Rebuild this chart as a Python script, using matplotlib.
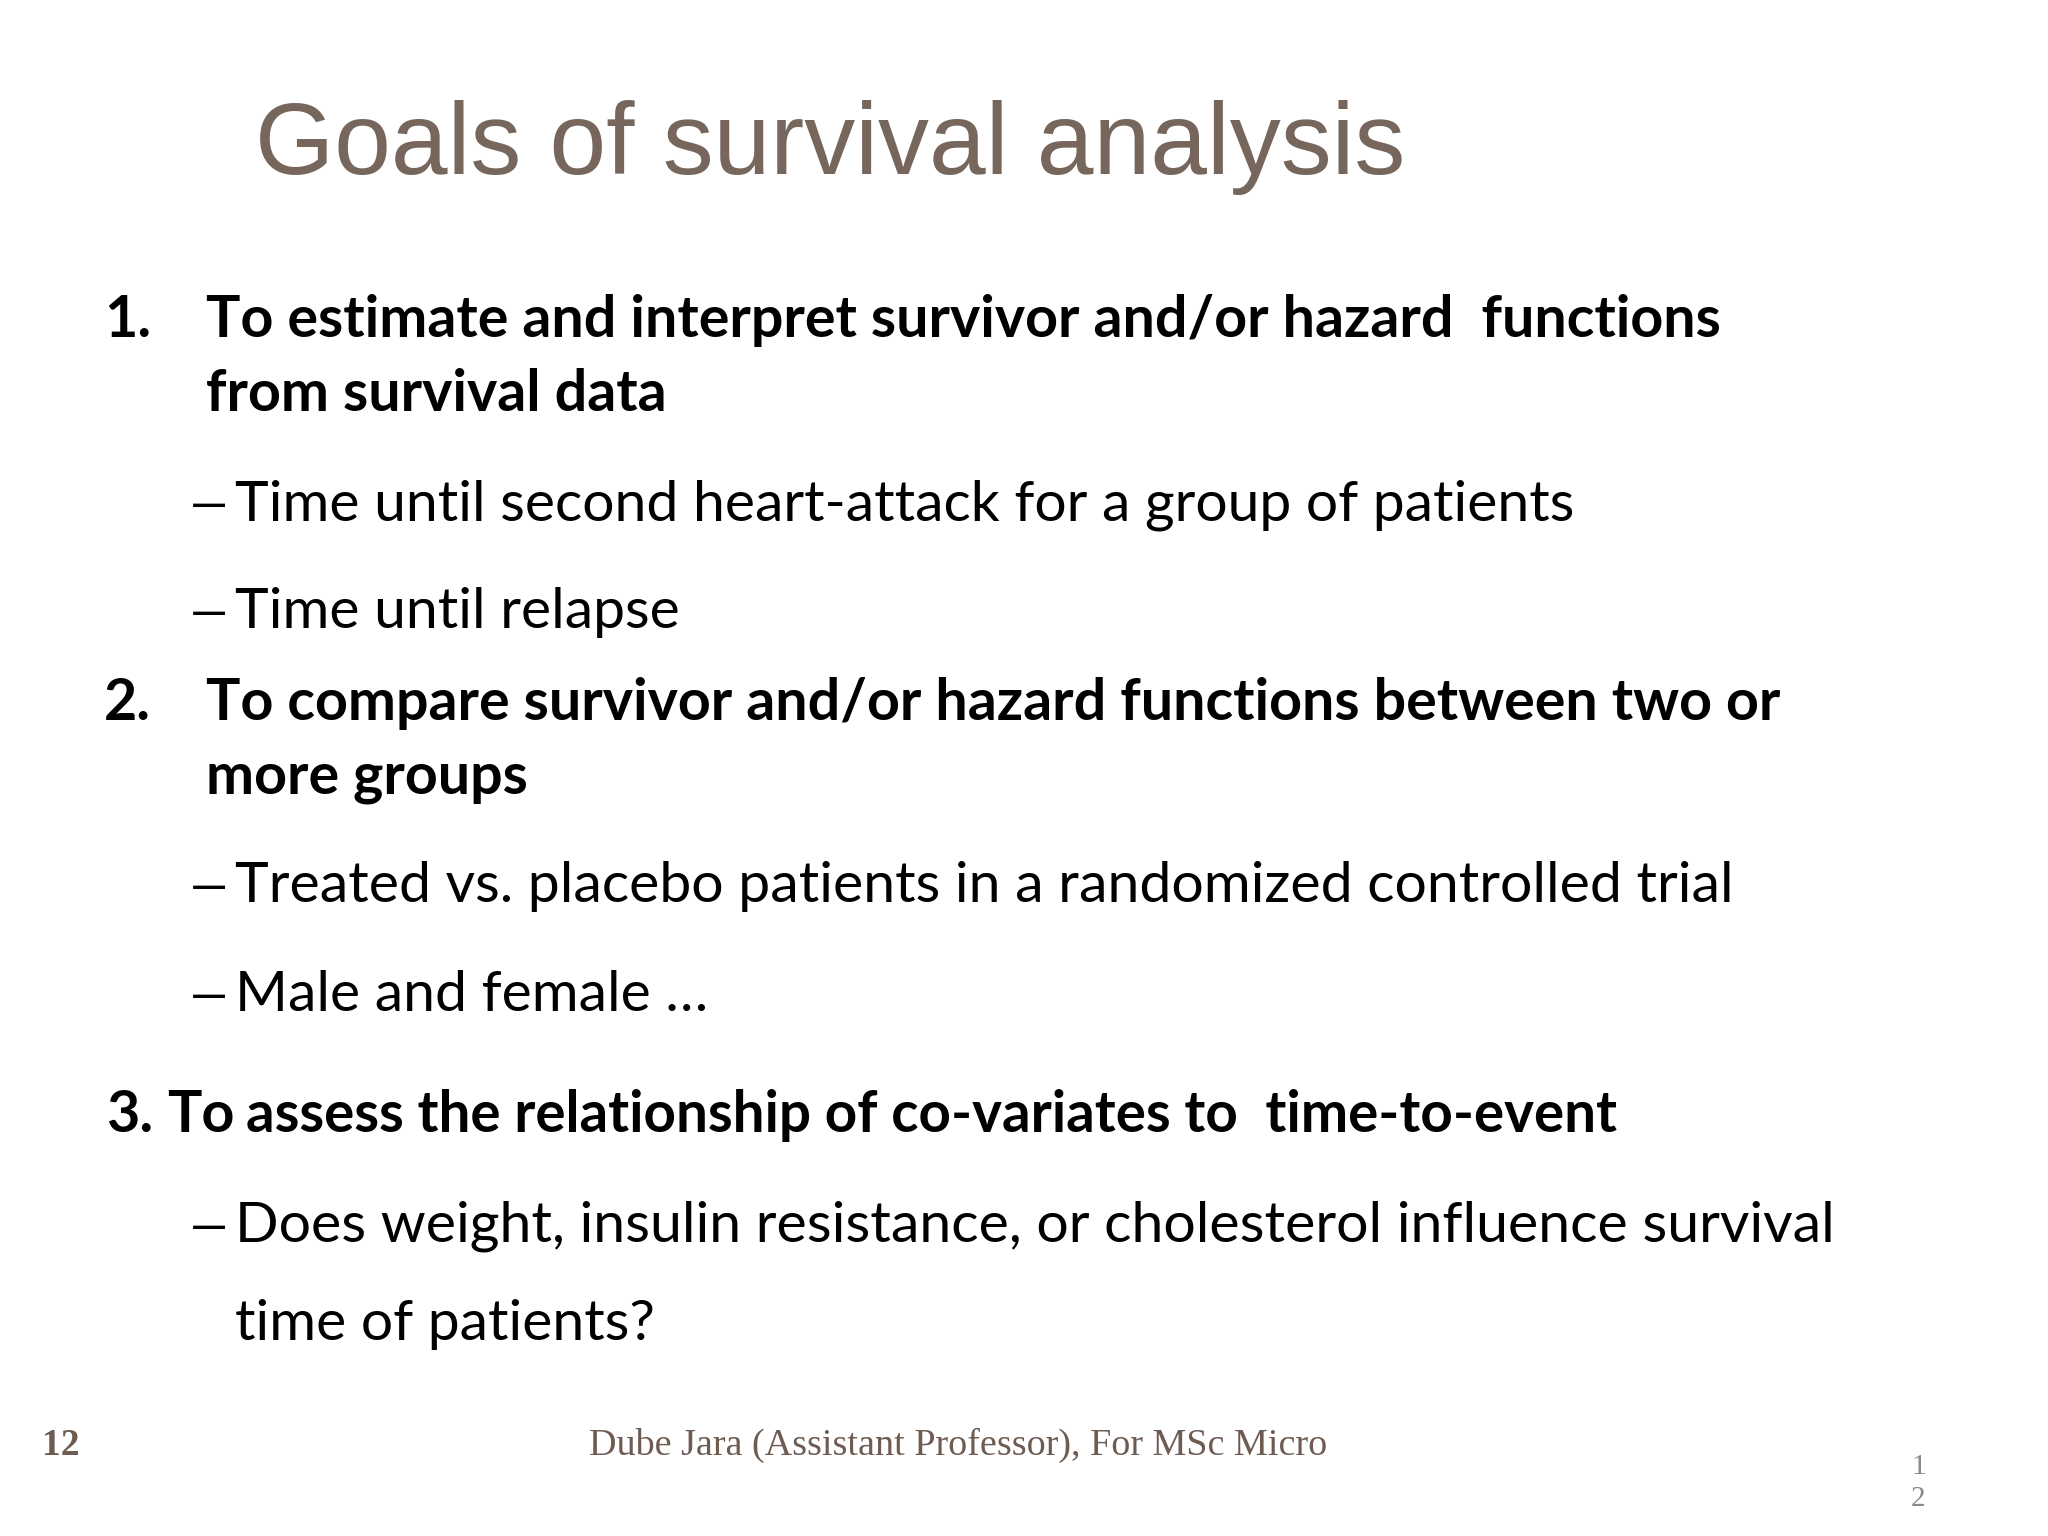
import matplotlib
matplotlib.use("Agg")
import matplotlib.pyplot as plt

W, H = 2048, 1536
DPI = 100

title = "Goals of survival analysis"
numbers = ["1.", "2.", "3."]
headings = [
    "To estimate and interpret survivor and/or hazard  functions",
    "from survival data",
    "To compare survivor and/or hazard functions between two or",
    "more groups",
    "To",
    "assess the relationship of co-variates to  time-to-event",
]
bullets = [
    "Time until second heart-attack for a group of patients",
    "Time until relapse",
    "Treated vs. placebo patients in a randomized controlled trial",
    "Male and female \u2026",
    "Does weight, insulin resistance, or cholesterol influence survival",
    "time of patients?",
]
footer_left = "12"
footer_mid = "Dube Jara (Assistant Professor), For MSc Micro"
page_digits = ["1", "2"]

fig = plt.figure(figsize=(W / DPI, H / DPI), dpi=DPI)
fig.patch.set_facecolor("white")
renderer = fig.canvas.get_renderer()


def put(x, y, s, right=None, size=30, **kw):
    t = fig.text(x / W, 1 - y / H, s, fontsize=size, va="baseline", ha="left", **kw)
    if right is not None:
        w = t.get_window_extent(renderer).width
        t.set_fontsize(size * (right - x) / w)
    return t


BODY = "Lato"
TCOL = "#76665c"
FCOL = "#6e5c52"

put(255, 174, title, right=1404, size=70, family="Liberation Sans", color=TCOL)

# headings (bold)
hb = dict(family=BODY, weight="bold", color="black")
t1 = put(206, 337, headings[0], right=1721, size=35, **hb)
hs = t1.get_fontsize()
put(104, 337, numbers[0], size=hs, **hb)
put(206, 411, headings[1], size=hs, **hb)
put(104, 720, numbers[1], size=hs, **hb)
put(206, 720, headings[2], right=1780, size=hs, **hb)
put(206, 794, headings[3], size=hs, **hb)
put(106, 1132, numbers[2], size=hs, **hb)
put(167, 1132, headings[4], size=hs, **hb)
put(246, 1132, headings[5], right=1619, size=hs, **hb)

# bullets (regular)
br = dict(family=BODY, color="black")
b0 = put(235, 520, bullets[0], right=1572, size=35, **br)
bs = b0.get_fontsize()
put(235, 628, bullets[1], size=bs, **br)
put(235, 902, bullets[2], right=1732, size=bs, **br)
put(235, 1011, bullets[3], size=bs, **br)
put(235, 1242, bullets[4], right=1835, size=bs, **br)
put(235, 1340, bullets[5], size=bs, **br)
dash_y = [520, 628, 902, 1011, 1242]
for y in dash_y:
    put(190, y, "\u2014", right=228, size=bs, family=BODY, color="black")

# footer
put(42, 1455, footer_left, size=27, family="Liberation Serif", weight="bold", color=FCOL)
put(589, 1455, footer_mid, right=1328, size=24, family="Liberation Serif", color=FCOL)
put(1911, 1474, page_digits[0], size=21, family="Liberation Serif", color="#8a8a8a")
put(1911, 1506, page_digits[1], size=21, family="Liberation Serif", color="#8a8a8a")

fig.savefig("out.png", dpi=DPI, facecolor="white")
